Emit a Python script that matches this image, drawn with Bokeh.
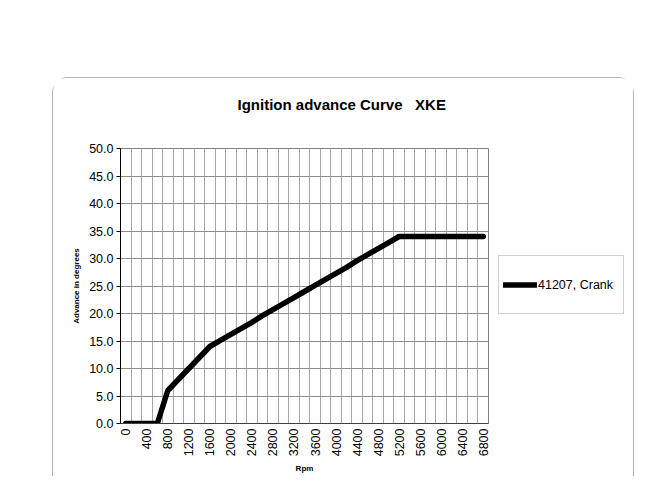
from bokeh.plotting import figure
from bokeh.layouts import row, column
from bokeh.models import (Range1d, FixedTicker, NumeralTickFormatter, Legend,
                          LegendItem, Label)
from bokeh.embed import file_html
from bokeh.resources import INLINE
import math

# data
rpm = [0, 200, 400, 600, 800, 1000, 1200, 1400, 1600, 1800, 2000, 2200, 2400,
       2600, 2800, 3000, 3200, 3400, 3600, 3800, 4000, 4200, 4400, 4600, 4800,
       5000, 5200, 5400, 5600, 5800, 6000, 6200, 6400, 6600, 6800]
advance = [0, 0, 0, 0, 6.0, 8.0, 10.0, 12.0, 14.0, 15.1, 16.2, 17.3, 18.4,
           19.6, 20.7, 21.8, 22.9, 24.0, 25.1, 26.2, 27.3, 28.4, 29.6, 30.7, 31.8,
           32.9, 34.0, 34.0, 34.0, 34.0, 34.0, 34.0, 34.0, 34.0, 34.0]
x_labels = [0, 400, 800, 1200, 1600, 2000, 2400, 2800, 3200, 3600, 4000, 4400,
            4800, 5200, 5600, 6000, 6400, 6800]
y_ticks = [0, 5, 10, 15, 20, 25, 30, 35, 40, 45, 50]
title_text = "Ignition advance Curve\u00a0\u00a0 XKE"
series_name = "41207, Crank"

FONT = "Liberation Sans"

# title strip (pixel coordinates)
pt = figure(width=580, height=60, output_backend="svg", toolbar_location=None,
            x_axis_type=None, y_axis_type=None,
            x_range=Range1d(0, 580), y_range=Range1d(0, 60), min_border=0)
pt.outline_line_color = None
pt.grid.visible = False
pt.add_layout(Label(x=184, y=34, text=title_text, text_font=FONT,
                    text_font_size="15px", text_font_style="bold",
                    text_color="black", text_baseline="middle"))

# main chart
p = figure(frame_width=368, frame_height=275, output_backend="svg",
           toolbar_location=None,
           x_range=Range1d(-100, 6900), y_range=Range1d(0, 50),
           x_axis_label="Rpm", y_axis_label="Advance in degrees",
           min_border_left=67, min_border_right=10,
           min_border_top=10, min_border_bottom=48)
p.outline_line_color = "#808080"
p.background_fill_color = "white"
p.border_fill_color = "white"
p.xgrid.ticker = FixedTicker(ticks=[r - 100 for r in rpm] + [6900])
p.ygrid.ticker = FixedTicker(ticks=y_ticks)
p.xgrid.grid_line_color = "#a6a6a6"
p.ygrid.grid_line_color = "#8c8c8c"

p.xaxis.ticker = FixedTicker(ticks=x_labels)
p.yaxis.ticker = FixedTicker(ticks=y_ticks)
p.yaxis.formatter = NumeralTickFormatter(format="0.0")
p.xaxis.major_label_orientation = math.pi / 2
for ax in (p.xaxis, p.yaxis):
    ax.major_label_text_font = FONT
    ax.major_label_text_font_size = "12.5px"
    ax.major_label_text_color = "black"
    ax.axis_label_text_font = FONT
    ax.axis_label_text_font_size = "8px"
    ax.axis_label_text_font_style = "bold"
    ax.axis_label_text_color = "black"
    ax.axis_label_standoff = 5
    ax.minor_tick_line_color = None
    ax.major_tick_in = 0
p.xaxis.major_tick_out = 0
p.xaxis.major_label_standoff = 5
p.xaxis.axis_line_color = "#404040"
p.yaxis.major_tick_out = 4
p.yaxis.major_label_standoff = 3
p.yaxis.axis_line_color = "black"

p.line(rpm, advance, line_color="black", line_width=5.5,
       line_join="round", line_cap="round")

# legend panel on the right: its own small figure
pl = figure(width=135, height=333, output_backend="svg", toolbar_location=None,
            x_axis_type=None, y_axis_type=None,
            x_range=Range1d(0, 1), y_range=Range1d(0, 1), min_border=0)
pl.outline_line_color = None
pl.grid.visible = False
pl.background_fill_color = "white"
pl.border_fill_color = "white"
rl = pl.line(rpm, advance, line_color="black", line_width=5.5,
             line_cap="round", visible=False)
legend = Legend(items=[LegendItem(label=series_name, renderers=[rl])],
                location=(0, 104), margin=0, padding=4,
                glyph_width=34, glyph_height=49, label_height=49,
                label_width=81, label_standoff=1, spacing=0,
                label_text_font=FONT, label_text_font_size="12.5px",
                label_text_color="black",
                border_line_color="#a0a0a0", background_fill_alpha=1,
                inactive_fill_alpha=0)
pl.add_layout(legend, "center")

layout = column(pt, row(p, pl), spacing=0)
layout.margin = (77, 0, 0, 52)
layout.styles = {"border": "1px solid #b4b4b4", "border-bottom": "none",
                 "border-radius": "16px 16px 0 0", "background": "white"}

open("out.html", "w").write(file_html(layout, INLINE))
